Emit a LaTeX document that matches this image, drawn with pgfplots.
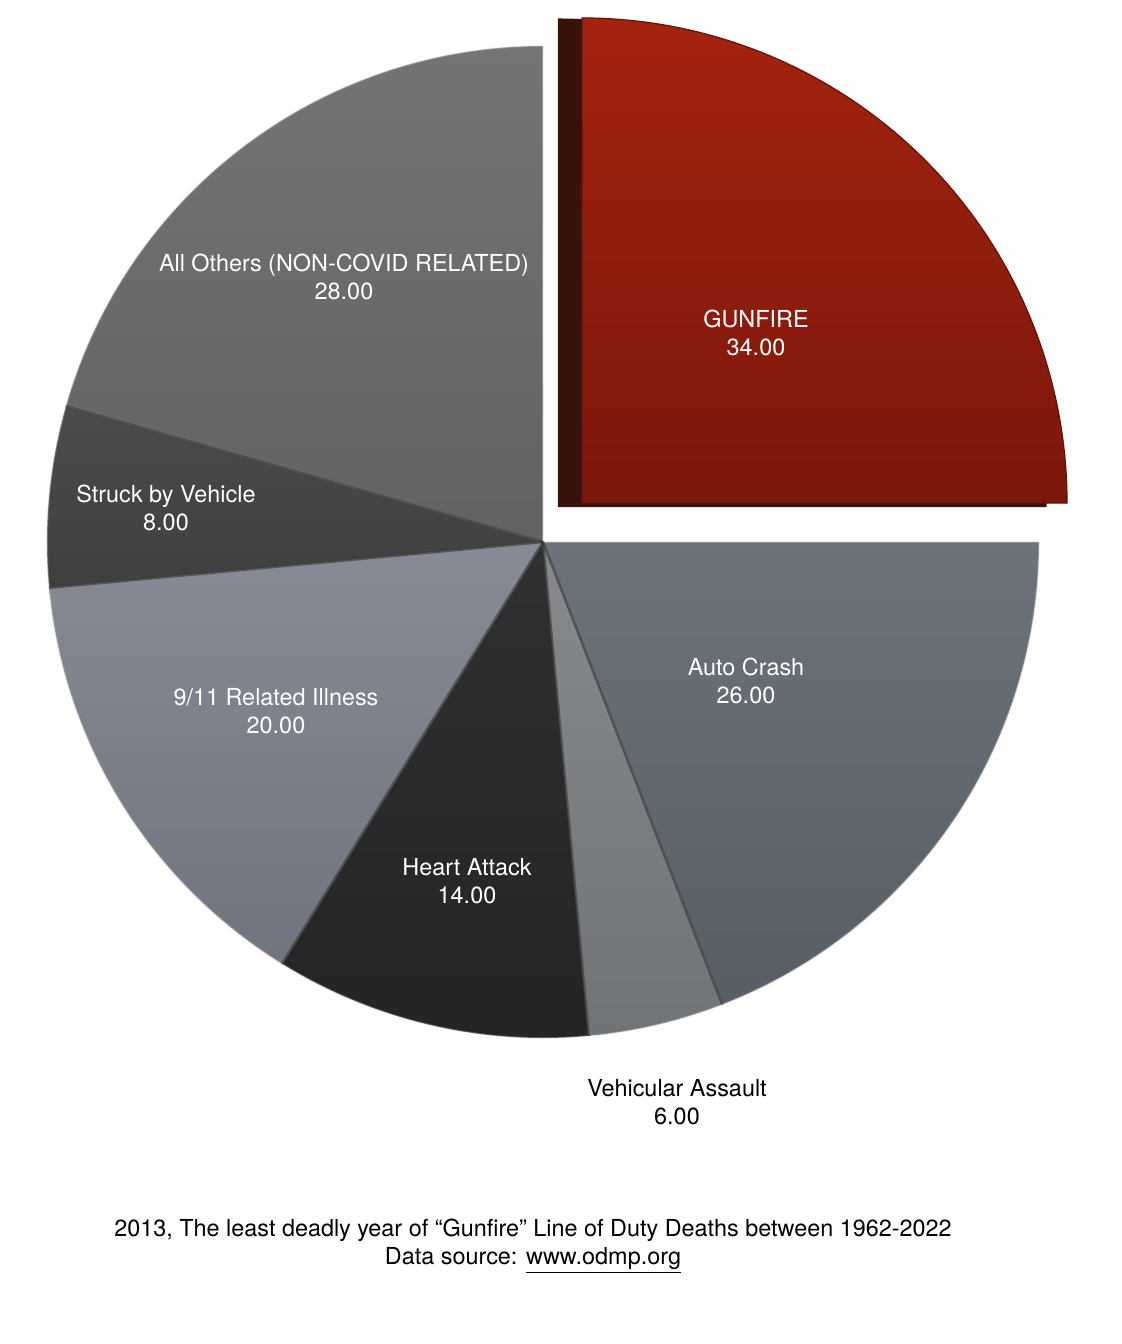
\documentclass[border=0pt]{standalone}
\usepackage{pgfplots}
\pgfplotsset{compat=1.18}
\usepgfplotslibrary{polar}
\usepackage{fontspec}
\setmainfont{TeX Gyre Heros}
\definecolor{gunT}{HTML}{A3230F}
\definecolor{gunB}{HTML}{7C170B}
\definecolor{gunS}{HTML}{3A120C}
\definecolor{autoT}{HTML}{6D737B}
\definecolor{autoB}{HTML}{575D65}
\definecolor{vehT}{HTML}{868A8D}
\definecolor{vehB}{HTML}{707477}
\definecolor{heartT}{HTML}{303032}
\definecolor{heartB}{HTML}{242426}
\definecolor{illT}{HTML}{878B95}
\definecolor{illB}{HTML}{70747E}
\definecolor{strT}{HTML}{4B4B4B}
\definecolor{strB}{HTML}{3F3F3F}
\definecolor{othT}{HTML}{747474}
\definecolor{othB}{HTML}{626262}
% data (deaths)
\def\vGun{34}\def\vAuto{26}\def\vVeh{6}\def\vHeart{14}\def\vIll{20}\def\vStruck{8}\def\vOther{28}
\pgfmathsetmacro\total{\vGun+\vAuto+\vVeh+\vHeart+\vIll+\vStruck+\vOther}
\pgfmathsetmacro\aA{90}
\pgfmathsetmacro\aB{\aA-\vGun/\total*360}
\pgfmathsetmacro\aC{\aB-\vAuto/\total*360}
\pgfmathsetmacro\aD{\aC-\vVeh/\total*360}
\pgfmathsetmacro\aE{\aD-\vHeart/\total*360}
\pgfmathsetmacro\aF{\aE-\vIll/\total*360}
\pgfmathsetmacro\aG{\aF-\vStruck/\total*360}
\pgfmathsetmacro\aH{\aG-\vOther/\total*360}
\pgfplotsset{pieax/.style={hide axis, scale only axis, width=496pt, height=496pt,
  xmin=-270, xmax=90, ymin=0, ymax=1, anchor=center, clip=false},
  slice/.style={draw=white!80!black, draw opacity=0.35, line width=0.8pt}}
\begin{document}
\begin{tikzpicture}[x=1pt,y=1pt]
\useasboundingbox (-271.5,-401) rectangle (289.5,271);
\begin{polaraxis}[pieax, at={(0,0)}]
\addplot[slice, top color=autoT, bottom color=autoB, domain=\aC:\aB, samples=80] {1} -- (axis cs:0,0) -- cycle;
\addplot[slice, top color=vehT, bottom color=vehB, domain=\aD:\aC, samples=30] {1} -- (axis cs:0,0) -- cycle;
\addplot[slice, top color=heartT, bottom color=heartB, domain=\aE:\aD, samples=50] {1} -- (axis cs:0,0) -- cycle;
\addplot[slice, top color=illT, bottom color=illB, domain=\aF:\aE, samples=60] {1} -- (axis cs:0,0) -- cycle;
\addplot[slice, top color=strT, bottom color=strB, domain=\aG:\aF, samples=30] {1} -- (axis cs:0,0) -- cycle;
\addplot[slice, top color=othT, bottom color=othB, domain=\aH:\aG, samples=80] {1} -- (axis cs:0,0) -- cycle;
% dark seams between slices
\addplot[black!80, line width=1.2pt, opacity=0.7] coordinates {(\aC,0) (\aC,1)};
\addplot[black!80, line width=1.2pt, opacity=0.7] coordinates {(\aD,0) (\aD,1)};
\addplot[black!80, line width=1.2pt, opacity=0.7] coordinates {(\aE,0) (\aE,1)};
\addplot[black!80, line width=1.2pt, opacity=0.7] coordinates {(\aF,0) (\aF,1)};
\addplot[black!80, line width=1.2pt, opacity=0.7] coordinates {(\aG,0) (\aG,1)};
% exploded GUNFIRE slice: side face, then front face
\addplot[xshift=7.5pt, yshift=17.5pt, fill=gunS, draw=none, domain=\aB:\aA, samples=80] {0.985} -- (axis cs:0,0) -- cycle;
\addplot[xshift=19.5pt, yshift=19.5pt, top color=gunT, bottom color=gunB, draw=gunB!80!black, line width=0.6pt, domain=\aB:\aA, samples=80] {0.978} -- (axis cs:0,0) -- cycle;
\end{polaraxis}
\begin{scope}[every node/.style={align=center, font=\fontsize{11.7}{14}\selectfont}]
\node[white] at (106.5,104.5) {GUNFIRE\\34.00};
\node[white] at (-99.5,132.5) {All Others (NON-COVID RELATED)\\28.00};
\node[white] at (-188.5,17) {Struck by Vehicle\\8.00};
\node[white] at (101.5,-69.5) {Auto Crash\\26.00};
\node[white] at (-133.5,-84.5) {9/11 Related Illness\\20.00};
\node[white] at (-38,-169.5) {Heart Attack\\14.00};
\node[black] at (67,-280) {Vehicular Assault\\6.00};
\node[black] at (-5,-352) {2013, The least deadly year of “Gunfire” Line of Duty Deaths between 1962-2022\\Data source: \underline{www.odmp.org}};
\end{scope}
\end{tikzpicture}
\end{document}
